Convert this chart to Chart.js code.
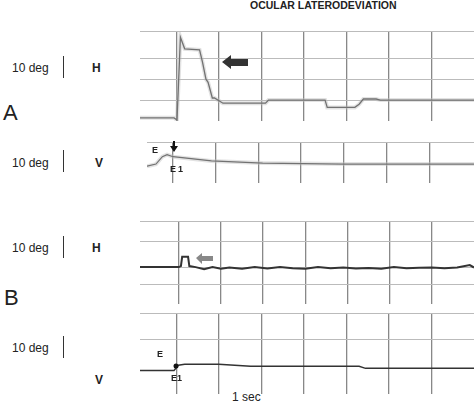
<!DOCTYPE html><html><head><meta charset="utf-8">
<script src="https://cdn.jsdelivr.net/npm/chart.js@4"></script>
<style>
body{margin:0;width:474px;height:413px;background:#fff;position:relative;font-family:"Liberation Sans",Arial,sans-serif;overflow:hidden}
.c{position:absolute}
.t{position:absolute;color:#222;white-space:nowrap}
.bar{position:absolute;width:1px;background:#333}
</style></head><body>
<div class="t" style="left:250px;top:-1px;font-size:10.5px;font-weight:bold">OCULAR LATERODEVIATION</div>
<div class="t" style="left:12px;top:61px;font-size:12px">10 deg</div><div class="bar" style="left:63px;top:56px;height:22px"></div>
<div class="t" style="left:92px;top:61px;font-size:12px;font-weight:bold">H</div>
<div class="t" style="left:3px;top:100px;font-size:22px">A</div>
<div class="t" style="left:12px;top:156px;font-size:12px">10 deg</div><div class="bar" style="left:63px;top:150px;height:22px"></div>
<div class="t" style="left:95px;top:156px;font-size:12px;font-weight:bold">V</div>
<div class="t" style="left:12px;top:241px;font-size:12px">10 deg</div><div class="bar" style="left:63px;top:236px;height:22px"></div>
<div class="t" style="left:92px;top:241px;font-size:12px;font-weight:bold">H</div>
<div class="t" style="left:4px;top:285px;font-size:22px">B</div>
<div class="t" style="left:12px;top:341px;font-size:12px">10 deg</div><div class="bar" style="left:63px;top:336px;height:22px"></div>
<div class="t" style="left:95px;top:373px;font-size:12px;font-weight:bold">V</div>
<div class="t" style="left:232px;top:390px;font-size:12px">1 sec</div>
<canvas id="c1" class="c" style="left:140px;top:31px" width="334" height="90"></canvas>
<canvas id="c2" class="c" style="left:147px;top:142px" width="327" height="41"></canvas>
<canvas id="c3" class="c" style="left:140px;top:221px" width="334" height="83"></canvas>
<canvas id="c4" class="c" style="left:140px;top:313px" width="334" height="81"></canvas>
<div class="t" style="left:152px;top:145px;font-size:9px;font-weight:bold">E</div>
<div class="t" style="left:170px;top:164px;font-size:9px;font-weight:bold;letter-spacing:2px">E1</div>
<div class="t" style="left:157px;top:349px;font-size:9px;font-weight:bold">E</div>
<div class="t" style="left:171px;top:373px;font-size:9px;font-weight:bold">E1</div>
<svg class="c" style="left:0;top:0" width="474" height="413">
<polygon points="222,62 231,55 231,59 248,59 248,66 231,66 231,69" fill="#333"/>
<polygon points="196,258 202,253 202,256 213,256 213,261 202,261 202,264" fill="#888"/>
<polygon points="170,146 178,146 174,152" fill="#111"/><rect x="173" y="141" width="2" height="6" fill="#111"/>
<circle cx="176" cy="366" r="2.5" fill="#111"/>
</svg>
<script>
// A-H: time (s), value (deg units)
const aHx=[-0.85,-0.05,0.02,0.1,0.2,0.55,0.62,0.7,0.75,0.85,0.9,1.1,2.1,2.17,3.5,3.55,4.2,4.3,4.4,4.7,4.8,7.0];
const aHy=[0.15,0.15,0.05,4.0,3.45,3.4,2.8,2.0,1.85,1.1,1.1,0.85,0.85,1.0,1.0,0.65,0.65,0.8,1.05,1.05,1.0,1.0];
const aVx=[-0.61,-0.4,-0.25,-0.14,0,0.9,2.1,4.0,7.05];
const aVy=[1.6,1.8,2.5,2.7,2.5,2.1,1.9,1.8,1.8];
const bHx=[-0.92,0.0,0.05,0.08,0.22,0.25,0.4,0.6,0.8,1.0,1.2,1.5,1.8,2.1,2.4,2.7,3.0,3.3,3.6,3.9,4.2,4.5,4.8,5.1,5.4,5.7,6.0,6.3,6.6,6.9,7.0];
const bHy=[1.8,1.8,1.85,2.3,2.3,1.85,1.8,1.7,1.8,1.72,1.78,1.72,1.8,1.73,1.8,1.75,1.72,1.8,1.74,1.78,1.73,1.76,1.72,1.8,1.74,1.77,1.78,1.74,1.78,1.9,1.78];
const bVx=[-0.85,-0.05,0.05,0.2,1.0,1.75,4.3,4.45,7.0];
const bVy=[1.15,1.15,1.4,1.45,1.45,1.35,1.35,1.25,1.25];
const xTicks=[0,1,2,3,4,5,6];
const aHgrid=[0,1,2,3,4.3];const aVgrid=[0,3.9];const bHgrid=[0,0.95,1.8,3.05,4.05];const bVgrid=[0,2.65,3.95];
function pts(xs,ys){return xs.map((x,i)=>({x:x,y:ys[i]}));}
function mk(id,xs,ys,xmin,xmax,ymax,grid,shadow,lw){
 const ds=[];
 if(shadow)ds.push({data:pts(xs,ys),borderColor:'rgba(190,190,190,0.45)',borderWidth:4,pointRadius:0,tension:0});
 ds.push({data:pts(xs,ys),borderColor:'#333',borderWidth:lw,pointRadius:0,tension:0});
 new Chart(document.getElementById(id),{type:'line',data:{datasets:ds},
 options:{responsive:false,animation:false,layout:{padding:0},plugins:{legend:{display:false},tooltip:{enabled:false}},
 scales:{x:{type:'linear',min:xmin,max:xmax,afterBuildTicks:a=>{a.ticks=xTicks.map(v=>({value:v}));},ticks:{display:false},grid:{color:'#888',lineWidth:1.3,drawTicks:false},border:{display:false}},
 y:{min:0,max:ymax,afterBuildTicks:a=>{a.ticks=grid.map(v=>({value:v}));},ticks:{display:false},grid:{color:'#bbb',lineWidth:1,drawTicks:false},border:{display:false}}}}});
}
mk('c1',aHx,aHy,-0.85,7.0,4.3,aHgrid,true,1.3);
mk('c2',aVx,aVy,-0.61,7.05,3.9,aVgrid,true,1.2);
mk('c3',bHx,bHy,-0.92,7.0,4.05,bHgrid,false,2);
mk('c4',bVx,bVy,-0.85,7.0,3.95,bVgrid,false,1.5);
</script></body></html>
